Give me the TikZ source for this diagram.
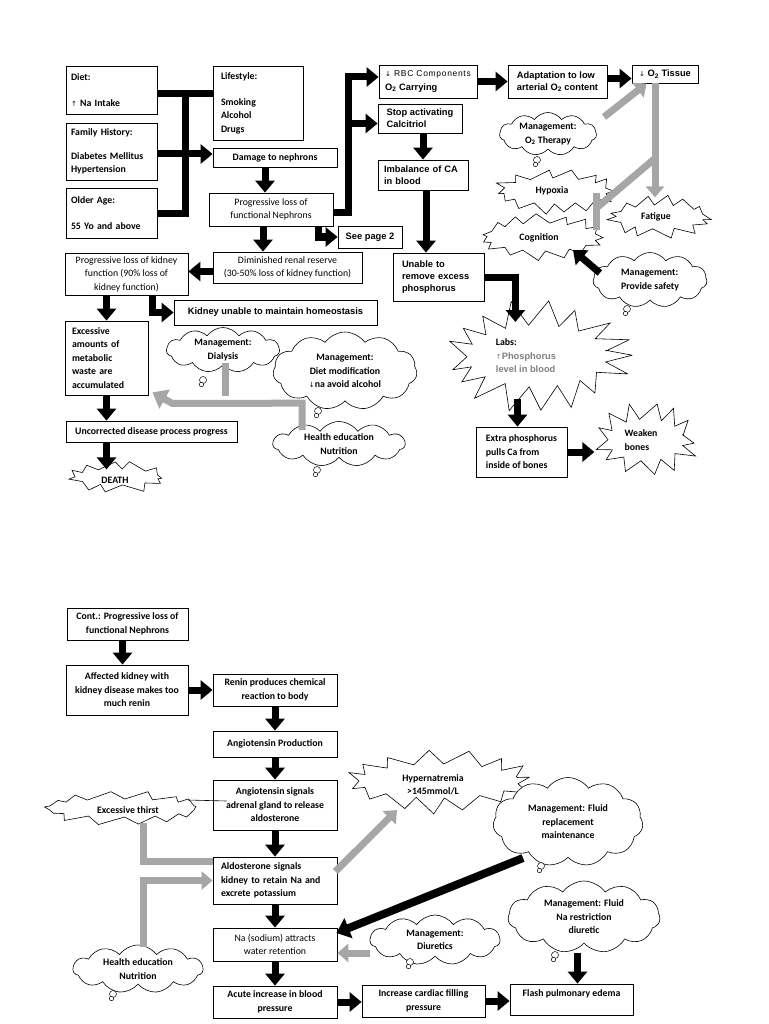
\documentclass[tikz,border=0pt]{standalone}
\usepackage{fontspec}
\setmainfont{Carlito}
\newfontfamily\arialf{Liberation Sans}
\newfontfamily\symf{DejaVu Sans}
\usetikzlibrary{shapes.symbols,arrows.meta,calc}
\definecolor{gbar}{RGB}{166,166,166}
\definecolor{labgray}{RGB}{128,128,128}
\newcommand\fs{\fontsize{9.8}{13.5}\selectfont\bfseries}
\newcommand\fa{\fontsize{9.3}{12}\arialf\bfseries}
\newcommand\upar{{\symf\mdseries\fontsize{7}{7}\selectfont ↑}}
\newcommand\dnar{{\symf\mdseries\fontsize{7}{7}\selectfont ↓}}
\newcommand\bbox[7]{\node[bx,#6,minimum width={(#4)-(#2)},minimum height={(#5)-(#3)}] (#1) at ({((#2)+(#4))/2},{((#3)+(#5))/2}) {#7};}
\newcommand\bub[2]{\draw[line width=0.5pt,fill=white] (#1,#2) circle[radius=3.5];\draw[line width=0.5pt,fill=white] ($(#1,#2)+(-1.5,4.5)$) circle[radius=2.2];}
% starburst drawn directly: cx, cy, rx, ry, points, depth, seed
\newcommand\sburst[7]{%
 \pgfmathsetseed{#7}%
 \pgfmathtruncatemacro\nlast{#5-1}%
 \draw[burstline] ({#1+(#3-#6)*cos(-180/#5)},{#2+(#4-#6)*sin(-180/#5)})
 \foreach \k [evaluate=\k as \ao using {\k*360/#5+0.3*rand*360/#5},
              evaluate=\k as \fo using {1-0.13*rnd},
              evaluate=\k as \ai using {(\k+0.5)*360/#5+0.12*rand*360/#5}] in {0,...,\nlast}
   { -- ({#1+\fo*#3*cos(\ao)},{#2+\fo*#4*sin(\ao)}) -- ({#1+(#3-#6)*cos(\ai)},{#2+(#4-#6)*sin(\ai)}) } -- cycle;}
\tikzset{
 bx/.style={draw,line width=0.8pt,fill=white,inner sep=3pt,font=\fs,align=center},
 lft/.style={align=left},
 md/.style={font=\fs\mdseries},
 ar/.style={font=\fa},
 burstline/.style={draw,line width=0.6pt,fill=white,line join=miter,miter limit=4},
 btxt/.style={font=\fs,align=center,inner sep=1pt},
 cl/.style={cloud,draw,line width=0.6pt,fill=white,cloud puffs=11,cloud puff arc=110,cloud ignores aspect,inner sep=0pt,font=\fs,align=center},
 bar/.style={line width=7pt,black},
 arr/.style={bar,-{Triangle[width=19pt,length=12pt]}},
 arrb/.style={line width=8pt,black,-{Triangle[width=21pt,length=13pt]}},
 gline/.style={line width=7pt,gbar},
 garr/.style={gline,-{Triangle[width=18pt,length=11pt]}},
 garrb/.style={gline,-{Triangle[width=21pt,length=14pt]}},
}
\begin{document}
\begin{tikzpicture}[x=1pt,y=-1pt]
\useasboundingbox (0,0) rectangle (768,1024);
\fill[white] (0,0) rectangle (768,1024);

% ---------- top: boxes
\bbox{diet}{66}{66}{157}{114}{lft,text width=81pt}{Diet:\\[12pt]\upar\ Na Intake}
\bbox{fam}{66}{123}{157}{180}{lft,text width=81pt}{Family History:\\[10pt]Diabetes Mellitus\\Hypertension}
\bbox{age}{66}{188}{157}{238}{lft,text width=81pt}{Older Age:\\[12pt]55 Yo and above}
\bbox{life}{213}{66}{303}{140}{lft,text width=74pt}{Lifestyle:\\[12.5pt]Smoking\\Alcohol\\Drugs}
\bbox{damage}{213}{148}{337}{167}{}{Damage to nephrons}
\bbox{prog}{209}{193}{333}{226}{md}{Progressive loss of\\functional Nephrons}
\bbox{seep}{338}{226}{402}{248}{ar}{See page 2}
\bbox{dim}{213}{252}{362}{283}{md}{Diminished renal reserve\\(30-50\% loss of kidney function)}
\bbox{plkf}{65}{253}{188}{295}{md}{Progressive loss of kidney\\function (90\% loss of\\kidney function)}
\bbox{kum}{174}{300}{377}{325}{ar}{Kidney unable to maintain homeostasis}
\bbox{exc}{65}{321}{148}{395}{lft,text width=69pt}{Excessive\\amounts of\\metabolic\\waste are\\accumulated}
\bbox{unc}{66}{421}{237}{442}{}{Uncorrected disease process progress}
\bbox{rbc}{379}{65}{477}{98}{lft}{{\fontsize{8.5}{12}\arialf\mdseries\addfontfeature{LetterSpace=8}\dnar\ RBC Components}\\{\fa O\textsubscript{2} Carrying}}
\bbox{adapt}{508}{65}{607}{98}{ar,lft}{Adaptation to low\\arterial O\textsubscript{2} content}
\bbox{tissue}{632}{65}{698}{83}{ar}{\dnar\ O\textsubscript{2} Tissue}
\bbox{calc}{378}{104}{462}{133}{ar,lft}{Stop activating\\Calcitriol}
\bbox{imb}{378}{160}{468}{190}{ar,lft,text width=78pt}{Imbalance of CA\\in blood}
\bbox{unable}{393}{253}{484}{301}{ar,lft,text width=73pt}{Unable to\\remove excess\\phosphorus}
\bbox{extra}{476}{427}{567}{477}{lft}{Extra phosphorus\\pulls Ca from\\inside of bones}

% ---------- top: bursts and clouds
\sburst{555}{191}{63}{24}{14}{11}{13}
\node[btxt] (hyp) at (552,191) {Hypoxia};
\sburst{542}{237}{66}{25}{15}{11}{19}
\node[btxt] (cog) at (539,238) {Cognition};
\sburst{660}{217}{54}{22}{13}{10}{17}
\node[btxt] (fat) at (656,217) {Fatigue};
\sburst{537}{356}{97}{58}{17}{27}{7}
\node[btxt,align=left] (labs) at (526,356) {Labs:\\{\fa\color{labgray}\upar Phosphorus}\\{\fa\color{labgray}level in blood}};
\sburst{646}{440}{55}{38}{13}{17}{11}
\node[btxt,align=left] (weak) at (641,440) {Weaken\\bones};
\sburst{117}{477}{51}{17}{11}{9}{5}
\node[btxt] (death) at (115,480) {DEATH};

\node[cl,minimum width=97pt,minimum height=43pt] (o2c) at (548,134) {Management:\\O\textsubscript{2} Therapy};
\bub{537}{160}
\node[cl,minimum width=114pt,minimum height=55pt,align=left] (safe) at (650,280) {Management:\\Provide safety};
\bub{627}{309}
\node[cl,minimum width=113pt,minimum height=45pt] (dial) at (223,350) {Management:\\Dialysis};
\bub{203}{380}
\node[cl,minimum width=144pt,minimum height=78pt] (dietm) at (345,371) {Management:\\Diet modification\\{\dnar}na avoid alcohol};
\bub{318}{411}
\node[cl,minimum width=132pt,minimum height=45pt] (hed1) at (339,444) {Health education\\Nutrition};
\bub{317}{470}

% ---------- top: connectors
\coordinate (jA) at ($(diet.east)+(0,4)$);
\coordinate (spT) at ($(jA)+(28,0)$);
\coordinate (jB) at ($(fam.east)+(0,2.5)$);
\coordinate (jC) at ($(age.east)+(0,1)$);
\draw[bar] (jA) -- (jA -| life.west);
\draw[bar] (jC) -| (spT);
\draw[arr] (jB) -- (jB -| damage.west);
\coordinate (t1) at ($(damage.south)+(-10,0)$);
\draw[arr] (t1) -- (t1 |- prog.north);
\coordinate (t2) at ($(prog.south)+(-8,0)$);
\draw[arr] (t2) -- (t2 |- dim.north);
\coordinate (t3) at ($(prog.east)+(0,3.5)$);
\coordinate (tr) at ($(rbc.west)+(-30,-4.5)$);
\draw[arr] (t3) -| (tr) -- (tr -| rbc.west);
\coordinate (tc) at ($(calc.west)+(0,5)$);
\draw[arr] (tc -| tr) -- (tc);
\coordinate (t4) at ($(prog.south)+(47,0)$);
\draw[arr] (t4) |- (seep.west);
\draw[arr] (rbc.east) -- (adapt.west);
\coordinate (t5) at ($(adapt.east)+(0,-3)$);
\draw[arr] (t5) -- (t5 -| tissue.west);
\coordinate (t6) at ($(calc.south)+(3,0)$);
\draw[arr] (t6) -- (t6 |- imb.north);
\coordinate (t7) at ($(imb.south)+(3,0)$);
\draw[arr] (t7) -- (t7 |- unable.north);
\coordinate (t8) at ($(unable.east)+(31,45)$);
\draw[arr] (unable.east) -| (t8);
\coordinate (t9) at ($(extra.north)+(-4,-28)$);
\draw[arr] (t9) -- (t9 |- extra.north);
\coordinate (t10) at ($(extra.east)+(27,0)$);
\draw[arr] (extra.east) -- (t10);
\draw[arr] ($(safe.west)+(7,-7)$) -- ($(cog.center)+(34,12)$);
\coordinate (t11) at ($(dim.west)+(0,4)$);
\draw[arr] (t11) -- (t11 -| plkf.east);
\draw[arr] (exc.north |- plkf.south) -- (exc.north);
\coordinate (t12) at ($(plkf.south)+(26,0)$);
\draw[arr] (t12) |- (kum.west);
\draw[arr] (exc.south) -- (exc.south |- unc.north);
\coordinate (t13) at (exc.south |- unc.south);
\draw[arr] (t13) -- ++(0,27);

% gray, top
\draw[garr] ($(o2c.center)+(56,-17)$) -- ($(tissue.south west)+(15,0)$);
\coordinate (g1) at ($(tissue.south)+(-10,0)$);
\draw[garr] (g1) -- ++(0,114);
\coordinate (g2) at ($(g1)+(0,75)$);
\coordinate (g3) at ($(g2)+(-59,50)$);
\draw[gline] (g2) -- (g3);
\draw[gline] ($(g3)+(0,-15)$) -- ($(g3)+(0,22)$);
\draw[gline] ($(dial.south)+(2,-2)$) -- ++(0,33);
\coordinate (g4) at ($(hed1.north)+(-37,9)$);
\coordinate (g5) at ($(g4)+(0,-27)$);
\coordinate (g6) at ($(exc.south east)+(24,8)$);
\coordinate (g7) at ($(exc.south east)+(4,-3)$);
\draw[garrb] (g4) -- (g5) -- (g6) -- (g7);

% ---------- bottom: boxes
\bbox{cont}{67}{608}{188}{640}{}{Cont.: Progressive loss of\\functional Nephrons}
\bbox{aff}{66}{665}{188}{715}{}{Affected kidney with\\kidney disease makes too\\much renin}
\bbox{renin}{213}{674}{337}{706}{}{Renin produces chemical\\reaction to body}
\bbox{angp}{213}{731}{337}{757}{}{Angiotensin Production}
\bbox{angs}{213}{780}{337}{830}{}{Angiotensin signals\\adrenal gland to release\\aldosterone}
\bbox{aldo}{213}{857}{337}{904}{lft,text width=108pt}{Aldosterone signals\\kidney to retain Na and\\excrete potassium}
\bbox{na}{213}{928}{337}{961}{md}{Na (sodium) attracts\\water retention}
\bbox{acute}{213}{986}{337}{1018}{}{Acute increase in blood\\pressure}
\bbox{incr}{362}{985}{485}{1017}{}{Increase cardiac filling\\pressure}
\bbox{flash}{510}{984}{633}{1015}{}{Flash pulmonary edema\\\mbox{}}

\sburst{439}{781}{96}{33}{15}{16}{23}
\node[btxt] (hypern) at (433,785) {Hypernatremia\\>145mmol/L};
\sburst{122}{808}{83}{18}{14}{9}{29}
\node[btxt] (thirst) at (128,810) {Excessive thirst};
\draw[line width=0.6pt] ($(thirst.center)+(60,-10)$) -- ($(angs.west)+(14,-4)$);

\node[cl,minimum width=150pt,minimum height=89pt] (fluid1) at (568,822) {Management: Fluid\\replacement\\maintenance};
\bub{541}{866}
\node[cl,minimum width=152pt,minimum height=72pt] (fluid2) at (584,917) {Management: Fluid\\Na restriction\\diuretic};
\bub{555}{955}
\node[cl,minimum width=130pt,minimum height=50pt] (diur) at (435,940) {Management:\\Diuretics};
\bub{410}{962}
\node[cl,minimum width=130pt,minimum height=48pt] (hed2) at (138,969) {Health education\\Nutrition};
\bub{113}{994}

% ---------- bottom: connectors
\coordinate (b1) at ($(cont.south)+(-5,0)$);
\draw[arr] (b1) -- (b1 |- aff.north);
\draw[arr] (aff.east) -- (aff.east -| renin.west);
\draw[arr] (renin.south) -- (angp.north);
\draw[arr] (angp.south) -- (angs.north);
\draw[arr] (angs.south) -- (aldo.north);
\draw[arr] (aldo.south) -- (na.north);
\draw[arr] (na.south) -- (acute.north);
\draw[arr] (acute.east) -- (acute.east -| incr.west);
\draw[arr] (incr.east) -- (incr.east -| flash.west);
\coordinate (b2) at ($(flash.north)+(6,-31)$);
\draw[arr] (b2) -- (b2 |- flash.north);
\draw[arrb] ($(fluid1.center)+(-45,36)$) -- ($(na.east)+(-1,-11.5)$);
\coordinate (b3) at ($(na.east)+(0,8.5)$);
\draw[garr] ($(b3)+(33,0)$) -- (b3);
\draw[garr] ($(aldo.east)+(-2,-9)$) -- ($(hypern.center)+(-36,25)$);
\coordinate (b4) at ($(thirst.center)+(15,13)$);
\draw[gline] (b4) |- ($(aldo.west)+(0,-19.5)$);
\coordinate (b5) at ($(hed2.center)+(5,-22)$);
\draw[garr] (b5) |- (aldo.west);
\end{tikzpicture}
\end{document}
